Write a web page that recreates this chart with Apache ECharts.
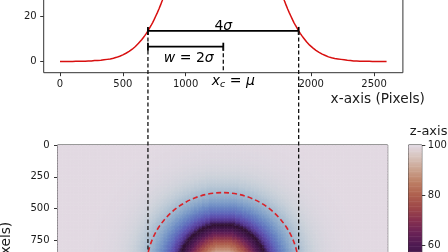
<!DOCTYPE html>
<html><head><meta charset="utf-8">
<script src="https://cdn.jsdelivr.net/npm/echarts@6/dist/echarts.min.js"></script>
<style>html,body{margin:0;padding:0;background:#fff}#c{width:448px;height:252px}</style>
</head><body><div id="c"></div>
<script>
// ---- data ----
// profile of the Gaussian: distance from the centre (pixels) -> z
const profileR = [0,12.5,25,37.5,50,62.5,75,87.5,100,112.5,125,137.5,150,162.5,175,187.5,200,212.5,225,237.5,250,262.5,275,287.5,300,312.5,325,337.5,350,362.5,375,387.5,400,412.5,425,437.5,450,462.5,475,487.5,500,512.5,525,537.5,550,562.5,575,587.5,600,612.5,625,637.5,650,662.5,675,687.5,700,712.5,725,737.5,750,762.5,775,787.5,800,812.5,825,837.5,850,862.5,875,887.5,900,925,950,975,1000,1050,1100,1150,1200];
const profileZ = [100,99.9,99.7,99.2,98.6,97.9,96.9,95.8,94.6,93.2,91.7,90.0,88.2,86.4,84.4,82.3,80.1,77.8,75.5,73.1,70.7,68.2,65.7,63.2,60.7,58.1,55.6,53.1,50.6,48.2,45.8,43.4,41.1,38.9,36.7,34.5,32.5,30.5,28.6,26.7,24.9,23.2,21.6,20.1,18.6,17.2,15.9,14.7,13.5,12.4,11.4,10.5,9.6,8.7,8.0,7.2,6.6,6.0,5.4,4.9,4.4,4.0,3.6,3.2,2.9,2.6,2.3,2.0,1.8,1.6,1.4,1.3,1.1,0.9,0.7,0.5,0.4,0.2,0.1,0.1,0.0];
const curveX = [];            // sample positions of the 1D curve (pixels)
for (let x = 0; x <= 2600; x += 12.5) curveX.push(x);
const centre = [1300, 975];   // x_c = mu, y centre of the 2D peak
const imageSize = [2600, 1950];
const cellSize = 12.5;
const edgeX = [700, 1900];    // mu - 2 sigma, mu + 2 sigma
const barStart = [700, 700];
const barEnd = [1900, 1300];
const barLevel = [13.5, 6.5];
const circleRadius = 600;     // 2 sigma
const xTickValues = [0, 500, 1000, 2000, 2500];
const yTickValuesTop = [0, 20, 40, 60, 80, 100];
const labelX = [1300, 1025, 1380];
const labelY = [15.6, 1.5, -8.8];
const labelText = ['4{i|σ}', '{i|w} = 2{i|σ}', '{i|x}{s|c} = {i|μ}'];
const xAxisTitle = 'x-axis (Pixels)';
const yAxisTitle = 'y-axis (Pixels)';
const zAxisTitle = 'z-axis';
const twilight = ['#e2d9e2','#cdd2da','#b4c4d3','#9ab3cd','#82a1c9','#6e8cc4','#6276bf','#5e5fb7','#5b47a6','#4f2f83','#2f1232','#3c1546','#4e1a52','#6a2256','#86304f','#9d4749','#ae5f4e','#bc7d63','#c9a08c','#d6c1b9','#e2d9e2'];

function zAt(r) {
  if (r > profileR[profileR.length - 1]) return 0;
  let best = 0, bd = Infinity;
  for (let i = 0; i < profileR.length; i++) { const d = Math.abs(profileR[i] - r); if (d < bd) { bd = d; best = i; } }
  return profileZ[best];
}
const curveData = curveX.map(x => [x, zAt(Math.abs(x - centre[0]))]);
const heatData = [];
for (let y = 0; y < imageSize[1]; y += cellSize)
  for (let x = 0; x < imageSize[0]; x += cellSize)
    heatData.push([x, y, zAt(Math.hypot(x + cellSize / 2 - centre[0], y + cellSize / 2 - centre[1]))]);
const cbData = [];
for (let v = 0; v < 100; v += 0.5) cbData.push([0, v, v + 0.25]);

const FONT = 'DejaVu Sans';
const TXT = '#1a1a1a';
const AX = '#333';
const plain = v => String(v);
const chart = echarts.init(document.getElementById('c'), null, {renderer: 'canvas'});
const tick = {show: true, length: 3.5, lineStyle: {color: AX, width: 1}};
const noLine = {show: false, onZero: false};
const gridBase = {show: true, borderColor: AX, borderWidth: 1, backgroundColor: 'transparent', containLabel: false, outerBoundsMode: 'none'};
const lbl = {formatter: plain, fontSize: 10, fontFamily: FONT, color: TXT};
chart.setOption({
  animation: false,
  backgroundColor: '#fff',
  grid: [
    Object.assign({left: 43.7, top: -175.8, width: 359.2, height: 248.5}, gridBase),
    Object.assign({left: 57.5, top: 145, width: 330.2, height: 247.7}, gridBase),
    Object.assign({left: 408.5, top: 145, width: 13.3, height: 250}, gridBase)
  ],
  xAxis: [
    {gridIndex: 0, type: 'value', min: -130, max: 2730, splitLine: {show: false}, axisLine: noLine,
     axisTick: Object.assign({customValues: xTickValues}, tick),
     axisLabel: Object.assign({customValues: xTickValues, margin: 7}, lbl)},
    {gridIndex: 1, type: 'value', min: 0, max: 2600, interval: 500, splitLine: {show: false}, axisLine: noLine,
     axisTick: tick, axisLabel: Object.assign({margin: 7}, lbl)},
    {gridIndex: 2, type: 'value', min: 0, max: 1, show: false}
  ],
  yAxis: [
    {gridIndex: 0, type: 'value', min: -5, max: 105, splitLine: {show: false}, axisLine: noLine,
     axisTick: Object.assign({customValues: yTickValuesTop}, tick),
     axisLabel: Object.assign({customValues: yTickValuesTop, margin: 7}, lbl)},
    {gridIndex: 1, type: 'value', min: 0, max: 1950, interval: 250, inverse: true, splitLine: {show: false}, axisLine: noLine,
     axisTick: tick, axisLabel: Object.assign({margin: 8}, lbl),
     name: yAxisTitle, nameLocation: 'middle', nameRotate: 90, nameGap: 40,
     nameTextStyle: {fontSize: 13.7, fontFamily: FONT, color: TXT}},
    {gridIndex: 2, type: 'value', min: 0, max: 100, interval: 20, position: 'right', splitLine: {show: false}, axisLine: noLine,
     axisTick: tick, axisLabel: Object.assign({margin: 6}, lbl)}
  ],
  visualMap: {type: 'continuous', show: false, min: 0, max: 100, dimension: 2, seriesIndex: [3, 4], inRange: {color: twilight}},
  series: [
    {type: 'line', xAxisIndex: 0, yAxisIndex: 0, data: curveData, showSymbol: false, lineStyle: {color: '#d80f0f', width: 1.5}, z: 3},
    {type: 'custom', xAxisIndex: 0, yAxisIndex: 0, z: 6, silent: true,
     data: barStart.map((s, i) => [s, barEnd[i], barLevel[i]]),
     renderItem(params, api) {
       const a = api.coord([api.value(0), api.value(2)]);
       const b = api.coord([api.value(1), api.value(2)]);
       const st = {stroke: '#000', lineWidth: 1.8};
       return {type: 'group', children: [
         {type: 'line', shape: {x1: a[0], y1: a[1], x2: b[0], y2: b[1]}, style: st},
         {type: 'line', shape: {x1: a[0], y1: a[1] - 4, x2: a[0], y2: a[1] + 4}, style: st},
         {type: 'line', shape: {x1: b[0], y1: b[1] - 4, x2: b[0], y2: b[1] + 4}, style: st}
       ]};
     }},
    {type: 'custom', xAxisIndex: 0, yAxisIndex: 0, z: 6, silent: true, clip: false,
     data: labelX.map((x, i) => [x, labelY[i]]),
     renderItem(params, api) {
       const p = api.coord([api.value(0), api.value(1)]);
       return {type: 'text', x: p[0], y: p[1], style: {
         text: labelText[params.dataIndex], fontSize: 14, fontFamily: FONT, fill: '#000', align: 'center', verticalAlign: 'middle',
         rich: {i: {fontStyle: 'italic', fontSize: 14, fontFamily: FONT, lineHeight: 16},
                s: {fontStyle: 'italic', fontSize: 9.5, fontFamily: FONT, verticalAlign: 'bottom', lineHeight: 9}}}};
     }},
    {type: 'custom', xAxisIndex: 1, yAxisIndex: 1, z: 1, silent: true, progressive: 0, data: heatData,
     encode: {x: 0, y: 1},
     renderItem(params, api) {
       const x0 = api.value(0), y0 = api.value(1);
       const p0 = api.coord([x0, y0]);
       const p1 = api.coord([x0 + cellSize, y0 + cellSize]);
       const ox = x0 + cellSize < imageSize[0] ? 0.5 : 0;
       return {type: 'rect', shape: {x: p0[0], y: p0[1], width: p1[0] - p0[0] + ox, height: p1[1] - p0[1] + 0.5},
               style: {fill: api.visual('color')}};
     }},
    {type: 'custom', xAxisIndex: 2, yAxisIndex: 2, z: 1, silent: true, progressive: 0, data: cbData,
     encode: {x: 0, y: 1},
     renderItem(params, api) {
       const v = api.value(1);
       const p0 = api.coord([0, v + 0.5]);
       const p1 = api.coord([1, v]);
       return {type: 'rect', shape: {x: p0[0], y: p0[1], width: p1[0] - p0[0], height: p1[1] - p0[1] + 0.5},
               style: {fill: api.visual('color')}};
     }},
    {type: 'custom', xAxisIndex: 1, yAxisIndex: 1, z: 4, silent: true, data: [[centre[0], centre[1], circleRadius]],
     renderItem(params, api) {
       const c = api.coord([api.value(0), api.value(1)]);
       const r = api.size([api.value(2), 0])[0];
       return {type: 'circle', shape: {cx: c[0], cy: c[1], r: r},
               style: {fill: 'none', stroke: '#d8232a', lineWidth: 1.6, lineDash: [5, 3]}};
     }},
    {type: 'custom', xAxisIndex: 0, yAxisIndex: 0, z: 8, silent: true, clip: false,
     data: edgeX.map(x => [x, barLevel[0], 0]).concat([[centre[0], barLevel[1], 1]]),
     renderItem(params, api) {
       const a = api.coord([api.value(0), api.value(1)]);
       const yEnd = api.value(2) === 1 ? api.coord([api.value(0), -5])[1] : api.getHeight() + 10;
       return {type: 'line', shape: {x1: a[0], y1: a[1], x2: a[0], y2: yEnd},
               style: {stroke: '#111', lineWidth: 1.3, lineDash: [4, 2.5]}};
     }},
    // axis titles placed below the top axis and above the colour bar
    {type: 'custom', xAxisIndex: 0, yAxisIndex: 0, z: 6, silent: true, clip: false, data: [[2730, -5]],
     renderItem(params, api) {
       const p = api.coord([api.value(0), api.value(1)]);
       return {type: 'text', x: p[0] + 22, y: p[1] + 26.5, style: {text: xAxisTitle, fontSize: 13.7, fontFamily: FONT, fill: TXT, align: 'right', verticalAlign: 'middle'}};
     }},
    {type: 'custom', xAxisIndex: 2, yAxisIndex: 2, z: 6, silent: true, clip: false, data: [[0.5, 100]],
     renderItem(params, api) {
       const p = api.coord([api.value(0), api.value(1)]);
       return {type: 'text', x: p[0] + 13.5, y: p[1] - 13, style: {text: zAxisTitle, fontSize: 13, fontFamily: FONT, fill: TXT, align: 'center', verticalAlign: 'middle'}};
     }}
  ]
});
</script></body></html>
